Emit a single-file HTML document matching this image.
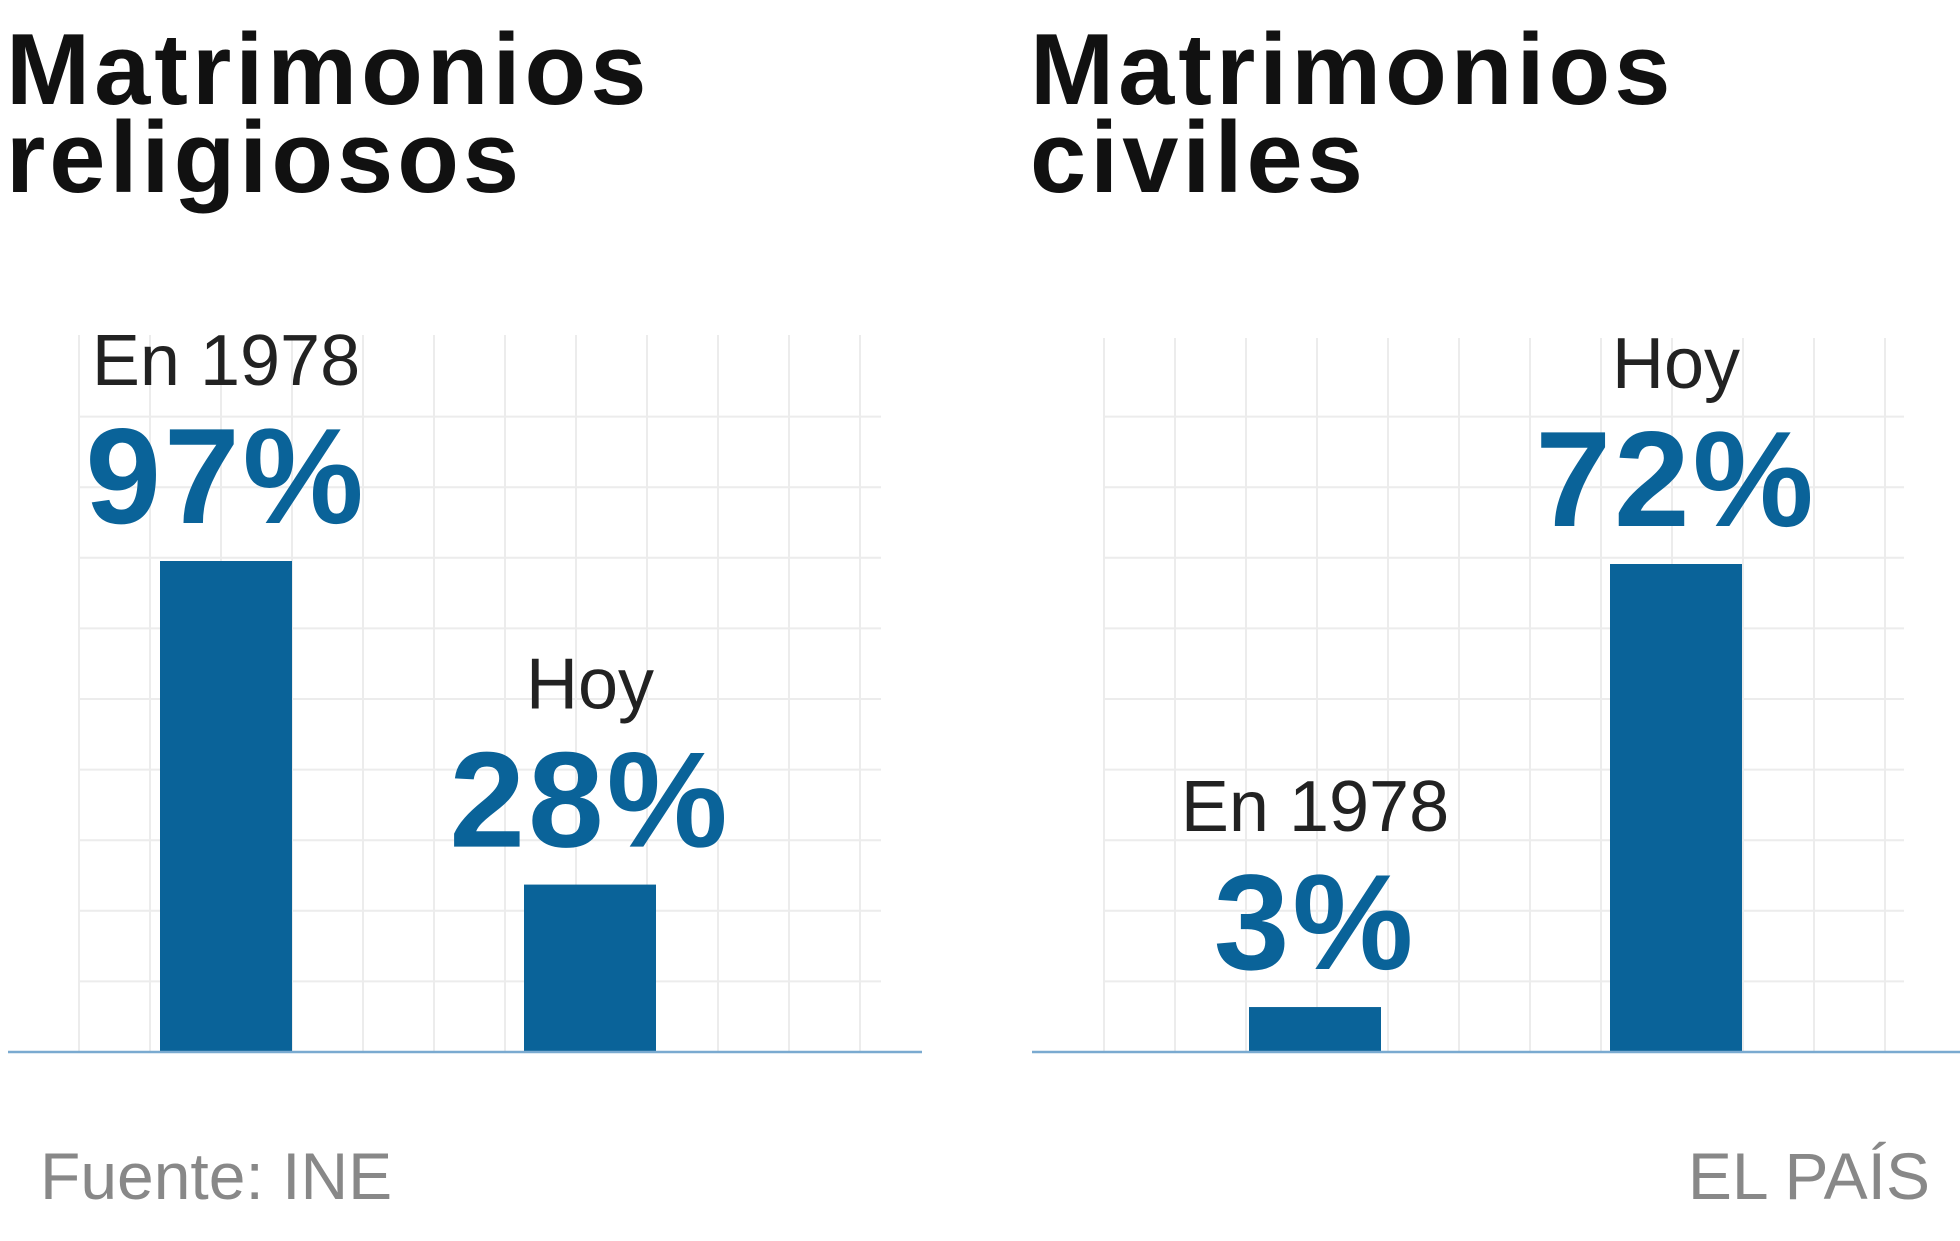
<!DOCTYPE html>
<html><head><meta charset="utf-8"><style>
html,body{margin:0;padding:0;background:#fff;}
body{width:1960px;height:1241px;overflow:hidden;position:relative;font-family:"Liberation Sans",sans-serif;}
.title{position:absolute;font-weight:bold;font-size:101px;line-height:88px;color:#111;letter-spacing:4px;}
.foot{position:absolute;font-size:66px;color:#888;top:1138px;}
</style></head><body>
<div class="title" style="left:6px;top:26px;">Matrimonios<br>religiosos</div>
<div class="title" style="left:1030px;top:26px;">Matrimonios<br>civiles</div>
<svg id="chart" width="1960" height="1241" style="position:absolute;left:0;top:0"></svg>
<div class="foot" style="left:40px;">Fuente: INE</div>
<div class="foot" style="right:30px;">EL PAÍS</div>
<script>
const categoriesLeft = ["En 1978", "Hoy"];
const valuesLeft = [97, 28];
const categoriesRight = ["En 1978", "Hoy"];
const valuesRight = [3, 72];
const svg = document.getElementById('chart');
const NS = 'http://www.w3.org/2000/svg';
function mk(tag, attrs){const e=document.createElementNS(NS,tag);for(const k in attrs)e.setAttribute(k,attrs[k]);svg.appendChild(e);return e;}
function panel(cfg, cats, vals, prefix){
  for(let x=cfg.gx0; x<=cfg.gx1+1; x+=71){
    const l=mk('line',{x1:x,x2:x,y1:cfg.gtop,y2:cfg.base,stroke:'#ececec','stroke-width':2});
    
    
  }
  for(let y=cfg.base-70.6; y>=cfg.gtop+40; y-=70.6){
    const l=mk('line',{x1:cfg.gx0,x2:cfg.gx1,y1:y,y2:y,stroke:'#ececec','stroke-width':2});
    
    
  }
  const maxV=Math.max(...vals);
  const yScale=v=>cfg.base - (v-cfg.dmin)/(maxV-cfg.dmin)*cfg.maxH;
  vals.forEach((v,i)=>{
    const x=cfg.barX[i], top=yScale(v);
    const r=mk('rect',{x:x,y:top,width:132,height:cfg.base-top,fill:'#0a6399'});
    
    
    const cx=x+66;
    const t1=mk('text',{x:cx,y:top-176,'text-anchor':'middle','font-size':72,fill:'#222','font-family':'Liberation Sans, sans-serif'});
    t1.textContent=cats[i];
    
    
    const t2=mk('text',{x:cx,y:top-38,'text-anchor':'middle','font-size':136,'font-weight':'bold',fill:'#0a6399','letter-spacing':3,'font-family':'Liberation Sans, sans-serif'});
    t2.textContent=v+'%';
    
    
  });
  const b=mk('line',{x1:cfg.ax0,x2:cfg.ax1,y1:cfg.base,y2:cfg.base,stroke:'#7aaad0','stroke-width':2.5});
  
  
}
panel({gx0:79,gx1:881,gtop:335,base:1052,maxH:491,dmin:-7.7,barX:[160,524],ax0:8,ax1:922}, categoriesLeft, valuesLeft, 'religiosos');
panel({gx0:1104,gx1:1904,gtop:338,base:1052,maxH:488,dmin:-4,barX:[1249,1610],ax0:1032,ax1:1960}, categoriesRight, valuesRight, 'civiles');
</script>
</body></html>
